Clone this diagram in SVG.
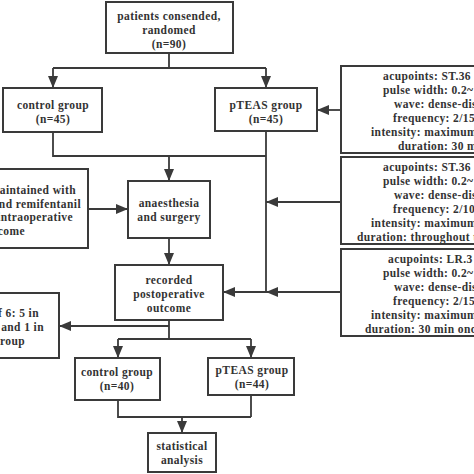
<svg xmlns="http://www.w3.org/2000/svg" width="474" height="474" viewBox="0 0 474 474">
<defs>
<style>
.box{fill:#fff;stroke:#3a3a3a;stroke-width:2}
.ln{fill:none;stroke:#3a3a3a;stroke-width:1.8}
text{font-family:"Liberation Serif","Times New Roman",serif;font-weight:bold;font-size:11.5px;fill:#333;letter-spacing:0.4px}
.c{text-anchor:middle}
.e{text-anchor:end}
</style>
<marker id="ah" markerUnits="userSpaceOnUse" markerWidth="12" markerHeight="10" viewBox="0 0 12 10" refX="12" refY="5" orient="auto">
<path d="M0,0 L12,5 L0,10 Z" fill="#3a3a3a"/>
</marker>
</defs>
<rect width="474" height="474" fill="#fff"/>
<g id="connectors">
<path class="ln" d="M169,53 V68 M53,68 H266"/>
<path class="ln" d="M53,68 V88" marker-end="url(#ah)"/>
<path class="ln" d="M266,68 V88" marker-end="url(#ah)"/>
<path class="ln" d="M341,110 H317" marker-end="url(#ah)"/>
<path class="ln" d="M53,132 V156 H266 M266,131 V293"/>
<path class="ln" d="M169,156 V181" marker-end="url(#ah)"/>
<path class="ln" d="M341,202 H266" marker-end="url(#ah)"/>
<path class="ln" d="M341,292 H266" marker-end="url(#ah)"/>
<path class="ln" d="M266,292 H223" marker-end="url(#ah)"/>
<path class="ln" d="M88,209 H128" marker-end="url(#ah)"/>
<path class="ln" d="M169,238 V265" marker-end="url(#ah)"/>
<path class="ln" d="M169,320 V339 M118,339 H251"/>
<path class="ln" d="M169,326 H59" marker-end="url(#ah)"/>
<path class="ln" d="M118,339 V358" marker-end="url(#ah)"/>
<path class="ln" d="M251,339 V358" marker-end="url(#ah)"/>
<path class="ln" d="M118,400 V417 H251 M251,395 V417"/>
<path class="ln" d="M182,417 V433" marker-end="url(#ah)"/>
</g>
<g id="n-start">
<rect class="box" x="106" y="2" width="127" height="51"/>
<text class="c" x="169" y="20">patients consended,</text>
<text class="c" x="169" y="34">randomed</text>
<text class="c" x="169" y="48">(n=90)</text>
</g>
<g id="n-control45">
<rect class="box" x="3" y="88" width="99" height="44"/>
<text class="c" x="53" y="109">control group</text>
<text class="c" x="53" y="123">(n=45)</text>
</g>
<g id="n-pteas45">
<rect class="box" x="215" y="88" width="102" height="43"/>
<text class="c" x="266" y="109">pTEAS group</text>
<text class="c" x="266" y="123">(n=45)</text>
</g>
<g id="n-params1">
<rect class="box" x="341" y="66" width="145" height="87"/>
<text x="383" y="80">acupoints: ST.36</text>
<text x="383" y="94">pulse width: 0.2~</text>
<text x="394" y="108">wave: dense-dis</text>
<text x="393" y="122">frequency: 2/15</text>
<text x="371" y="136">intensity: maximum</text>
<text x="398" y="150">duration: 30 m</text>
</g>
<g id="n-params2">
<rect class="box" x="341" y="157" width="145" height="87"/>
<text x="383" y="171">acupoints: ST.36</text>
<text x="383" y="185">pulse width: 0.2~</text>
<text x="394" y="199">wave: dense-dis</text>
<text x="393" y="213">frequency: 2/10</text>
<text x="371" y="227">intensity: maximum</text>
<text x="357" y="241">duration: throughout t</text>
</g>
<g id="n-params3">
<rect class="box" x="341" y="249" width="145" height="87"/>
<text x="388" y="263">acupoints: LR.3</text>
<text x="383" y="277">pulse width: 0.2~</text>
<text x="394" y="291">wave: dense-dis</text>
<text x="393" y="305">frequency: 2/15</text>
<text x="371" y="319">intensity: maximum</text>
<text x="365" y="333">duration: 30 min once</text>
</g>
<g id="n-maintained">
<rect class="box" x="-60" y="169" width="148" height="79"/>
<text class="e" x="76" y="194">maintained with</text>
<text class="e" x="81" y="208">and remifentanil</text>
<text class="e" x="73" y="221">intraoperative</text>
<text class="e" x="25" y="235">outcome</text>
</g>
<g id="n-anaesthesia">
<rect class="box" x="128" y="181" width="82" height="57"/>
<text class="c" x="169" y="207">anaesthesia</text>
<text class="c" x="169" y="221">and surgery</text>
</g>
<g id="n-recorded">
<rect class="box" x="115" y="265" width="108" height="55"/>
<text class="c" x="169" y="284">recorded</text>
<text class="c" x="169" y="298">postoperative</text>
<text class="c" x="169" y="312">outcome</text>
</g>
<g id="n-dropout">
<rect class="box" x="-60" y="293" width="119" height="65"/>
<text class="e" x="39" y="317">of 6: 5 in</text>
<text class="e" x="44" y="331">group and 1 in</text>
<text class="e" x="25" y="345">group</text>
</g>
<g id="n-control40">
<rect class="box" x="75" y="358" width="85" height="42"/>
<text class="c" x="117" y="376">control group</text>
<text class="c" x="117" y="390">(n=40)</text>
</g>
<g id="n-pteas44">
<rect class="box" x="208" y="358" width="86" height="37"/>
<text class="c" x="252" y="374">pTEAS group</text>
<text class="c" x="252" y="388">(n=44)</text>
</g>
<g id="n-stats">
<rect class="box" x="148" y="433" width="68" height="39"/>
<text class="c" x="182" y="450">statistical</text>
<text class="c" x="182" y="464">analysis</text>
</g>
</svg>
